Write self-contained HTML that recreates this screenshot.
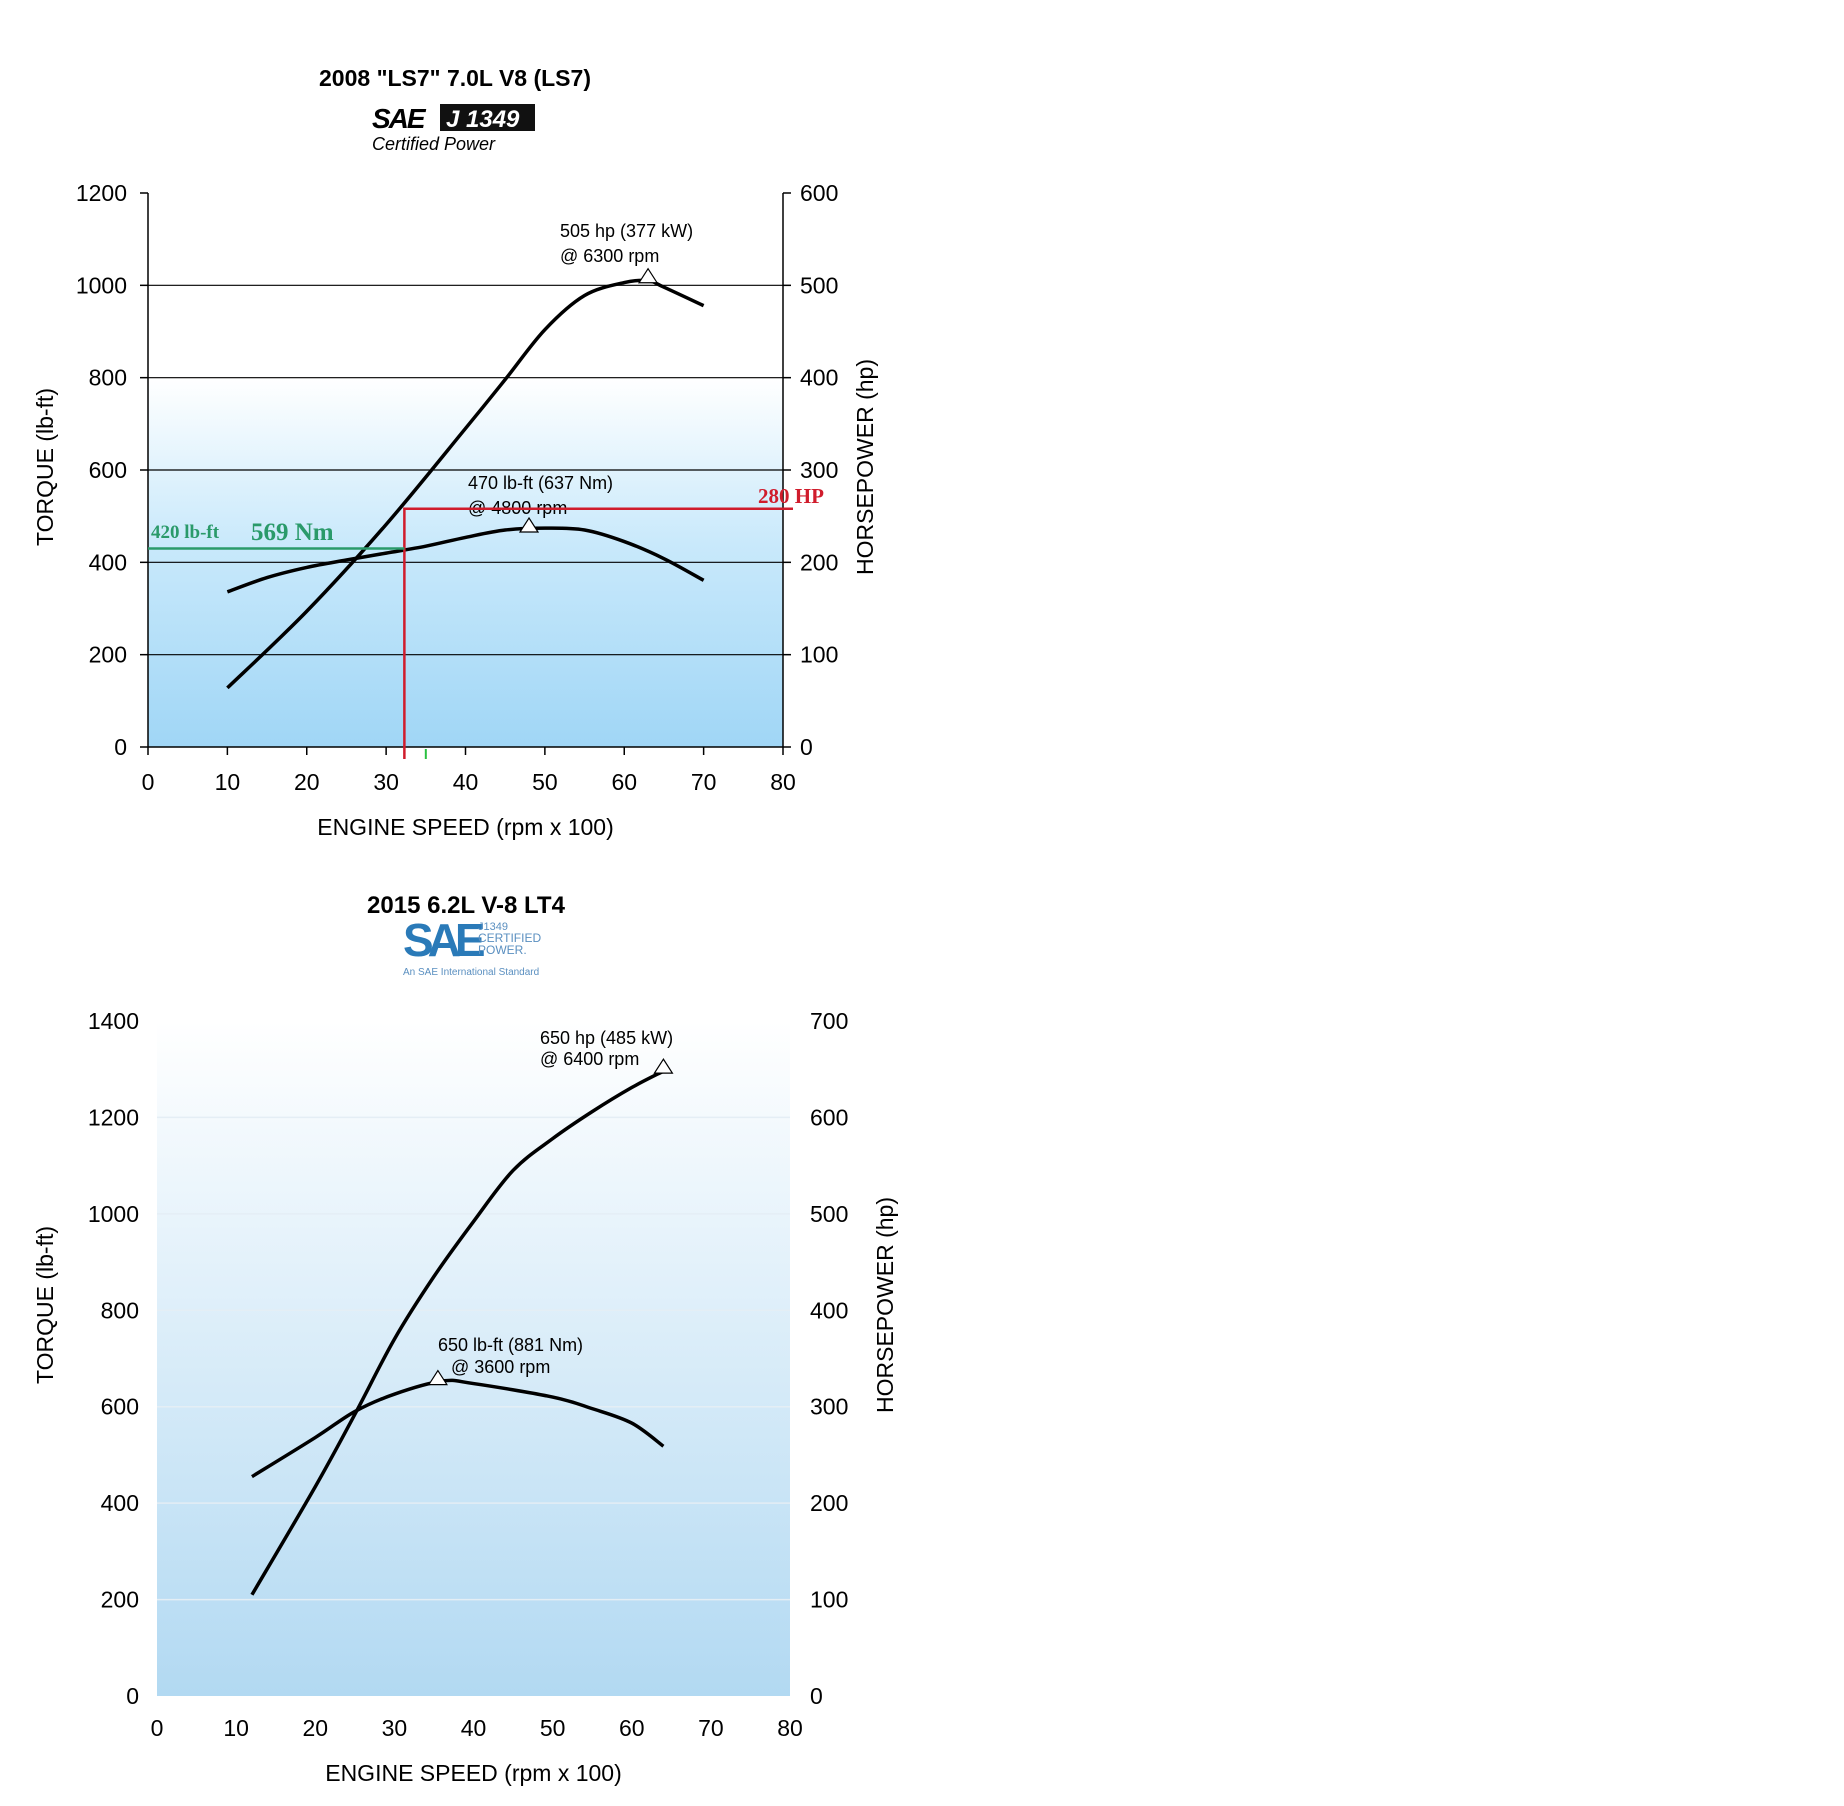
<!DOCTYPE html>
<html><head><meta charset="utf-8"><style>
html,body{margin:0;padding:0;background:#fff}
svg{display:block;font-family:"Liberation Sans",Arial,sans-serif}
</style></head><body>
<svg id="s" width="1844" height="1806" viewBox="0 0 1844 1806" xmlns="http://www.w3.org/2000/svg">
<defs>
<linearGradient id="grad1" x1="0" y1="0" x2="0" y2="1"><stop offset="0" stop-color="#ffffff"/><stop offset="0.45" stop-color="#c9e9fb"/><stop offset="1" stop-color="#a0d6f6"/></linearGradient>
<linearGradient id="grad2" x1="0" y1="0" x2="0" y2="1"><stop offset="0" stop-color="#ffffff"/><stop offset="1" stop-color="#b2d9f2"/></linearGradient>
</defs>
<text x="455" y="86" font-size="23" font-weight="bold" text-anchor="middle">2008 "LS7" 7.0L V8 (LS7)</text>
<g>
<text x="372" y="128" font-size="28" font-weight="bold" font-style="italic" letter-spacing="-2">SAE</text>
<rect x="440" y="104" width="95" height="27" fill="#111"/>
<text x="446" y="127" font-size="24" font-weight="bold" font-style="italic" fill="#fff">J 1349</text>
<text x="372" y="150" font-size="18" font-style="italic">Certified  Power</text>
</g>
<text x="466" y="913" font-size="24" font-weight="bold" text-anchor="middle">2015 6.2L V-8 LT4</text>
<g>
<text x="403" y="956" font-size="46" font-weight="bold" fill="#2a7ab8" letter-spacing="-6">SAE</text>
<text x="478" y="930" font-size="11" fill="#5a8fc0">J1349</text>
<text x="478" y="942" font-size="12" fill="#5a8fc0">CERTIFIED</text>
<text x="478" y="954" font-size="12" fill="#5a8fc0">POWER.</text>
<text x="403" y="975" font-size="10" fill="#5a8fc0">An SAE International Standard</text>
</g>
<g id="c1"></g><g id="c2"></g>
</svg>
<script>
// top chart data (LS7)
const topRpm=[10,15,20,25,30,35,40,45,50,55,60,65,70];
const topTorque=[336,367,389,405,420,435,454,470,474,470,445,408,361];
const topHpRpm=[10,20,30,40,45,50,55,60,63,65,70];
const topHp=[64,147,241,345,398,452,489,503,505,498,478];
const topYTicks=[0,200,400,600,800,1000,1200];
const topY2Ticks=[0,100,200,300,400,500,600];
const xTicks=[0,10,20,30,40,50,60,70,80];
// bottom chart data (LT4)
const botRpm=[12,20,25,30,36,40,50,55,60,64];
const botTorque=[455,536,590,626,653,648,620,596,566,518];
const botHpRpm=[12,20,25,30,35,40,45,50,55,60,64];
const botHp=[105,217,292,370,435,492,545,578,606,631,648];
const botYTicks=[0,200,400,600,800,1000,1200,1400];
const botY2Ticks=[0,100,200,300,400,500,600,700];
const NS="http://www.w3.org/2000/svg";
function mk(p,t,a){const e=document.createElementNS(NS,t);for(const k in a)e.setAttribute(k,a[k]);p.appendChild(e);return e;}
function txt(p,x,y,s,a){const e=mk(p,'text',Object.assign({x:x,y:y,'font-size':23},a||{}));e.textContent=String(s);return e;}
function chart(g,o){
 const X=v=>o.x0+(o.x1-o.x0)*v/80, Y=v=>o.y0-(o.y0-o.y1)*v/o.ymax, Y2=v=>o.y0-(o.y0-o.y1)*v/o.y2max;
 const bg=mk(g,'rect',{x:X(0),y:Y(o.fillTop),width:X(80)-X(0),height:Y(0)-Y(o.fillTop),fill:o.fill});
 
 
 o.yt.forEach(v=>{
  if(v>0&&v<o.ymax){const l=mk(g,'line',{x1:X(0),x2:X(80),y1:Y(v),y2:Y(v),stroke:o.grid,'stroke-width':o.gw});
  
  }
  const t=txt(g,o.ylx,Y(v)+8,v,{'text-anchor':'end'});
  
  
  if(o.axes)mk(g,'line',{x1:X(0)-8,x2:X(0),y1:Y(v),y2:Y(v),stroke:'#000','stroke-width':1.5});
 });
 o.y2t.forEach(v=>{
  const t=txt(g,o.y2lx,Y2(v)+8,v);
  
  
  if(o.axes)mk(g,'line',{x1:X(80),x2:X(80)+8,y1:Y2(v),y2:Y2(v),stroke:'#000','stroke-width':1.5});
 });
 xTicks.forEach(v=>{
  const t=txt(g,X(v),o.xly,v,{'text-anchor':'middle'});
  
  
  if(o.axes)mk(g,'line',{x1:X(v),x2:X(v),y1:Y(0),y2:Y(0)+8,stroke:'#000','stroke-width':1.5});
 });
 if(o.axes){mk(g,'line',{x1:X(0),x2:X(0),y1:Y(0),y2:Y(o.ymax),stroke:'#000','stroke-width':1.5});
  mk(g,'line',{x1:X(80),x2:X(80),y1:Y(0),y2:Y(o.ymax),stroke:'#000','stroke-width':1.5});
  mk(g,'line',{x1:X(0),x2:X(80),y1:Y(0),y2:Y(0),stroke:'#000','stroke-width':1.5});}
 let t=txt(g,(X(0)+X(80))/2,o.xty,'ENGINE SPEED (rpm x 100)',{'text-anchor':'middle'});
 
 t=txt(g,0,0,'TORQUE (lb-ft)',{'text-anchor':'middle',transform:`translate(${o.ytx},${o.tyc}) rotate(-90)`});
 
 t=txt(g,0,0,'HORSEPOWER (hp)',{'text-anchor':'middle',transform:`translate(${o.y2tx},${o.tyc}) rotate(-90)`});
 
 return {X,Y,Y2};
}
function line(g,xs,ys,fx,fy,name){
 const P=xs.map((x,i)=>[fx(x),fy(ys[i])]);
 let d='M'+P[0][0]+','+P[0][1];
 for(let i=0;i<P.length-1;i++){
  const p0=P[Math.max(0,i-1)],p1=P[i],p2=P[i+1],p3=P[Math.min(P.length-1,i+2)];
  const c1=[p1[0]+(p2[0]-p0[0])/6,p1[1]+(p2[1]-p0[1])/6],c2=[p2[0]-(p3[0]-p1[0])/6,p2[1]-(p3[1]-p1[1])/6];
  d+=` C${c1[0]},${c1[1]} ${c2[0]},${c2[1]} ${p2[0]},${p2[1]}`;
 }
 const p=mk(g,'path',{d:d,fill:'none',stroke:'#000','stroke-width':3.5,'stroke-linejoin':'round'});
 
 
}
function tri(g,x,y,name){
 const p=mk(g,'polygon',{points:`${x},${y-10} ${x-9},${y+4} ${x+9},${y+4}`,fill:'#fff',stroke:'#000','stroke-width':1.2});
 
 
}
const gA=document.getElementById('c1');
const a=chart(gA,{x0:148,x1:783,y0:747,y1:193,ymax:1200,y2max:600,fillTop:800,fill:'url(#grad1)',grid:'#000',gw:1.2,axes:true,
 yt:topYTicks,y2t:topY2Ticks,ylx:127,y2lx:800,xly:790,xty:835,ytx:53,y2tx:873,tyc:467});
line(gA,topRpm,topTorque,a.X,a.Y,'torque-line');
line(gA,topHpRpm,topHp,a.X,a.Y2,'horsepower-line');
tri(gA,a.X(48),a.Y(470)-2,'peak-torque-marker');
tri(gA,a.X(63),a.Y2(505)-2,'peak-hp-marker');
let t;
t=txt(gA,560,237,'505 hp (377 kW)',{'font-size':18});
txt(gA,560,262,'@ 6300 rpm',{'font-size':18});
t=txt(gA,468,489,'470 lb-ft (637 Nm)',{'font-size':18});
txt(gA,468,514,'@ 4800 rpm',{'font-size':18});
const rx=a.X(32.3), ry=a.Y2(258);
t=mk(gA,'polyline',{points:`${rx},${a.Y(0)+12} ${rx},${ry} ${a.X(80)+10},${ry}`,fill:'none',stroke:'#d01c2c','stroke-width':2.5});

t=txt(gA,758,503,'280 HP',{'font-size':21,'font-weight':'bold',fill:'#d01c2c','font-family':'Liberation Serif,serif'});

t=mk(gA,'line',{x1:a.X(0),x2:rx,y1:a.Y(430),y2:a.Y(430),stroke:'#2a9a6a','stroke-width':2.5});

t=txt(gA,151,538,'420 lb-ft',{'font-size':19,'font-weight':'bold',fill:'#2a9a6a','font-family':'Liberation Serif,serif'});

txt(gA,251,540,'569 Nm',{'font-size':25,'font-weight':'bold',fill:'#2a9a6a','font-family':'Liberation Serif,serif'});
mk(gA,'line',{x1:a.X(35),x2:a.X(35),y1:a.Y(0)+2,y2:a.Y(0)+12,stroke:'#2ac040','stroke-width':2});

const gB=document.getElementById('c2');
const b=chart(gB,{x0:157,x1:790,y0:1696,y1:1021,ymax:1400,y2max:700,fillTop:1400,fill:'url(#grad2)',grid:'#e4eef5',gw:1.5,axes:false,
 yt:botYTicks,y2t:botY2Ticks,ylx:139,y2lx:810,xly:1736,xty:1781,ytx:53,y2tx:893,tyc:1305});
line(gB,botRpm,botTorque,b.X,b.Y,'torque-line-2015');
line(gB,botHpRpm,botHp,b.X,b.Y2,'horsepower-line-2015');
tri(gB,b.X(35.5),b.Y(650)-2,'peak-torque-marker-2015');
tri(gB,b.X(64),b.Y2(648)-2,'peak-hp-marker-2015');
t=txt(gB,540,1044,'650 hp (485 kW)',{'font-size':18});
txt(gB,540,1065,'@ 6400 rpm',{'font-size':18});
t=txt(gB,438,1351,'650 lb-ft (881 Nm)',{'font-size':18});
txt(gB,451,1373,'@ 3600 rpm',{'font-size':18});
</script>
</body></html>
